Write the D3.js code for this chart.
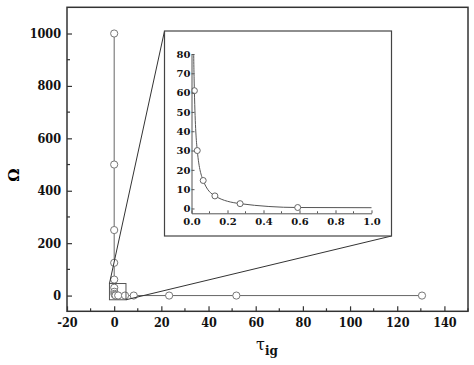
<!DOCTYPE html>
<html><head><meta charset="utf-8">
<script src="https://cdn.jsdelivr.net/npm/d3@7"></script>
<style>
html,body{margin:0;padding:0;background:#fff;}
svg{display:block;}
.tl{font-family:"DejaVu Serif Condensed","DejaVu Serif",serif;font-weight:bold;font-size:12.5px;fill:#111;}
.itl{font-family:"DejaVu Serif",serif;font-weight:bold;font-size:10px;fill:#111;}
</style></head><body>
<script>
// ---- data ----
const tau   = [0.001, 0.002, 0.004, 0.008, 0.016, 0.032, 0.065, 0.13, 0.27, 0.59, 1.7, 4.6, 8.3, 23.3, 51.8, 130.5];
const omega = [1000, 500, 250, 125, 61, 30, 14.5, 6.5, 2.5, 0.5, 0.3, 0.15, 0.1, 0.04, 0.02, 0.01];
const xTicks = [-20, 0, 20, 40, 60, 80, 100, 120, 140];
const yTicks = [0, 200, 400, 600, 800, 1000];
const insetXTicks = [0.0, 0.2, 0.4, 0.6, 0.8, 1.0];
const insetYTicks = [0, 10, 20, 30, 40, 50, 60, 70, 80];
const zoomTau = [-2, 5];      // zoom box in main data coords
const zoomOmega = [-16, 46];

const W = 474, H = 365;
const svg = d3.select("body").append("svg").attr("width", W).attr("height", H);

// ---- main scales ----
const x = d3.scaleLinear().domain([-20, 150]).range([67, 468]);
const y = d3.scaleLinear().domain([-60, 1100]).range([311.3, 7.3]);

const pts = tau.map((t, i) => ({t, o: omega[i]}));

// main series
svg.append("path").datum(pts)
  .attr("fill", "none").attr("stroke", "#666").attr("stroke-width", 1)
  .attr("d", d3.line().x(d => x(d.t)).y(d => y(d.o)));
svg.append("g").selectAll("circle").data(pts).join("circle")
  .attr("cx", d => x(d.t)).attr("cy", d => y(d.o)).attr("r", 3.6)
  .attr("fill", "#fff").attr("stroke", "#777").attr("stroke-width", 1);

// axes (ticks inside)
const xAxis = d3.axisBottom(x).tickValues(xTicks).tickSize(-5).tickSizeOuter(0).tickPadding(0).tickFormat(d3.format("d"));
const gx = svg.append("g").attr("transform", `translate(0,${y.range()[0]})`).call(xAxis);
gx.select(".domain").remove();
gx.selectAll("line").attr("stroke", "#333").attr("stroke-width", 1.2);
gx.selectAll("text").attr("class", "tl").attr("dy", "1.25em").text(d => d < 0 ? "-" + Math.abs(d) : d);
const xMinor = d3.range(-10, 151, 20);
svg.append("g").selectAll("line").data(xMinor).join("line")
  .attr("x1", d => x(d)).attr("x2", d => x(d)).attr("y1", y.range()[0]).attr("y2", y.range()[0] - 3)
  .attr("stroke", "#333").attr("stroke-width", 1.2);

const yAxis = d3.axisLeft(y).tickValues(yTicks).tickSize(-5).tickSizeOuter(0).tickPadding(6).tickFormat(d3.format("d"));
const gy = svg.append("g").attr("transform", `translate(${x.range()[0]},0)`).call(yAxis);
gy.select(".domain").remove();
gy.selectAll("line").attr("stroke", "#333").attr("stroke-width", 1.2);
gy.selectAll("text").attr("class", "tl");
const yMinor = d3.range(100, 1100, 200);
svg.append("g").selectAll("line").data(yMinor).join("line")
  .attr("y1", d => y(d)).attr("y2", d => y(d)).attr("x1", x.range()[0]).attr("x2", x.range()[0] + 3)
  .attr("stroke", "#333").attr("stroke-width", 1.2);

// frame
svg.append("rect").attr("x", x.range()[0]).attr("y", y.range()[1])
  .attr("width", x.range()[1] - x.range()[0]).attr("height", y.range()[0] - y.range()[1])
  .attr("fill", "none").attr("stroke", "#333").attr("stroke-width", 1.5);

// axis titles
svg.append("text").attr("transform", "translate(19,175) rotate(-90)")
  .attr("text-anchor", "middle")
  .style("font-family", "'DejaVu Serif',serif").style("font-weight", "bold").style("font-size", "15px")
  .text("Ω");
const xt = svg.append("text").attr("x", 267).attr("y", 350).attr("text-anchor", "middle")
  .style("font-family", "'DejaVu Serif',serif").style("font-size", "16px").style("fill", "#111");
xt.append("tspan").text("τ");
xt.append("tspan").attr("dy", 5).style("font-size", "12px").style("font-weight", "bold").text("ig");

// zoom box
const zx0 = x(zoomTau[0]), zx1 = x(zoomTau[1]), zy0 = y(zoomOmega[1]), zy1 = y(zoomOmega[0]);
svg.append("rect").attr("x", zx0).attr("y", zy0).attr("width", zx1 - zx0).attr("height", zy1 - zy0)
  .attr("fill", "none").attr("stroke", "#555").attr("stroke-width", 1);

// inset box
const box = {x0: 164.5, y0: 31, x1: 391.5, y1: 236};
svg.append("line").attr("x1", box.x0).attr("y1", box.y0).attr("x2", zx0).attr("y2", zy0)
  .attr("stroke", "#333").attr("stroke-width", 1);
svg.append("line").attr("x1", box.x1).attr("y1", box.y1).attr("x2", zx1).attr("y2", zy1)
  .attr("stroke", "#333").attr("stroke-width", 1);
svg.append("rect").attr("x", box.x0).attr("y", box.y0).attr("width", box.x1 - box.x0).attr("height", box.y1 - box.y0)
  .attr("fill", "#fff").attr("stroke", "#444").attr("stroke-width", 1.2);

// inset scales
const ix = d3.scaleLinear().domain([0, 1]).range([191.5, 371.5]);
const iy = d3.scaleLinear().domain([-2.5, 80]).range([213.3, 54]);

svg.append("clipPath").attr("id", "ic").append("rect")
  .attr("x", ix.range()[0]).attr("y", iy.range()[1])
  .attr("width", ix.range()[1] - ix.range()[0]).attr("height", iy.range()[0] - iy.range()[1]);

const ig = svg.append("g").attr("clip-path", "url(#ic)");
ig.append("path").datum(pts)
  .attr("fill", "none").attr("stroke", "#555").attr("stroke-width", 1)
  .attr("d", d3.line().x(d => ix(d.t)).y(d => iy(d.o)).curve(d3.curveMonotoneX));
ig.selectAll("circle").data(pts.filter(d => d.t <= 1 && d.o <= 80)).join("circle")
  .attr("cx", d => ix(d.t)).attr("cy", d => iy(d.o)).attr("r", 3)
  .attr("fill", "#fff").attr("stroke", "#666").attr("stroke-width", 1);

const iax = d3.axisBottom(ix).tickValues(insetXTicks).tickSize(-3).tickSizeOuter(0).tickPadding(2).tickFormat(d3.format(".1f"));
const gix = svg.append("g").attr("transform", `translate(0,${iy.range()[0]})`).call(iax);
gix.select(".domain").attr("stroke", "#555");
gix.selectAll("line").attr("stroke", "#555");
gix.selectAll("text").attr("class", "itl").attr("dy", "0.95em");
svg.append("g").selectAll("line").data([0.1, 0.3, 0.5, 0.7, 0.9]).join("line")
  .attr("x1", d => ix(d)).attr("x2", d => ix(d)).attr("y1", iy.range()[0]).attr("y2", iy.range()[0] - 2)
  .attr("stroke", "#555");

const iay = d3.axisLeft(iy).tickValues(insetYTicks).tickSize(-3).tickSizeOuter(0).tickPadding(1);
const giy = svg.append("g").attr("transform", `translate(${ix.range()[0]},0)`).call(iay);
giy.select(".domain").attr("stroke", "#555");
giy.selectAll("line").attr("stroke", "#555");
giy.selectAll("text").attr("class", "itl");
</script>
</body></html>
